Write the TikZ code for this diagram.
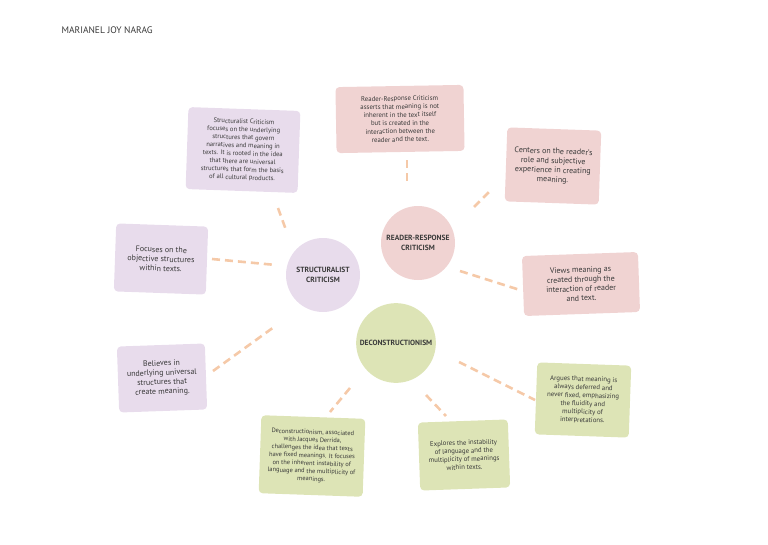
\documentclass[tikz,border=0pt]{standalone}
\usepackage{fontspec}
\setmainfont{PT Sans}
\definecolor{pur}{HTML}{E8DCEC}
\definecolor{pnk}{HTML}{F0D3D2}
\definecolor{grn}{HTML}{DDE4B6}
\definecolor{dsh}{HTML}{F5C9A8}
\definecolor{txt}{HTML}{3A3A3A}
\tikzset{
 card/.style={fill=#1,rounded corners=4pt,align=center,inner sep=2pt,font=\fontsize{6.8}{8.2}\selectfont,text=txt},
 hub/.style={circle,fill=#1,font=\fontsize{7.5}{10}\selectfont\bfseries,text=txt,align=center},
 link/.style={draw=dsh,line width=2.6pt,dash pattern=on 8pt off 5pt}
}
\begin{document}
\begin{tikzpicture}[x=1pt,y=-1pt]
\useasboundingbox (0,0) rectangle (768,544);
\node[anchor=west,font=\fontsize{9.5}{10}\selectfont,text=txt] (title) at (58,30) {MARIANEL JOY NARAG};
\node[hub=pur,minimum size=74pt] (sc) at (323,275) {STRUCTURALIST\\CRITICISM};
\node[hub=pnk,minimum size=74pt] (rr) at (418,243) {READER-RESPONSE\\CRITICISM};
\node[hub=grn,minimum size=76pt] (dc) at (396,343) {DECONSTRUCTIONISM};
\node[card=pur,minimum width=112pt,minimum height=82pt,font=\fontsize{6.6}{8}\selectfont,rotate=-2] (s1) at (243,150) {Structuralist Criticism\\focuses on the underlying\\structures that govern\\narratives and meaning in\\texts. It is rooted in the idea\\that there are universal\\structures that form the basis\\of all cultural products.};
\node[card=pnk,minimum width=128pt,minimum height=66pt,rotate=1] (r1) at (400,119) {Reader-Response Criticism\\asserts that meaning is not\\inherent in the text itself\\but is created in the\\interaction between the\\reader and the text.};
\node[card=pnk,minimum width=94pt,minimum height=74pt,font=\fontsize{8}{9.4}\selectfont,rotate=-2] (r2) at (553,166) {Centers on the reader's\\role and subjective\\experience in creating\\meaning.};
\node[card=pnk,minimum width=116pt,minimum height=60pt,font=\fontsize{8}{9.4}\selectfont,rotate=2] (r3) at (581,284) {Views meaning as\\created through the\\interaction of reader\\and text.};
\node[card=pur,minimum width=92pt,minimum height=68pt,font=\fontsize{8}{9.4}\selectfont,rotate=-2] (s2) at (161,259) {Focuses on the\\objective structures\\within texts.};
\node[card=pur,minimum width=88pt,minimum height=66pt,font=\fontsize{8}{9.4}\selectfont,rotate=2] (s3) at (162,378) {Believes in\\underlying universal\\structures that\\create meaning.};
\node[card=grn,minimum width=104pt,minimum height=78pt,font=\fontsize{6.4}{7.8}\selectfont,rotate=-2] (d1) at (312,456) {Deconstructionism, associated\\with Jacques Derrida,\\challenges the idea that texts\\have fixed meanings. It focuses\\on the inherent instability of\\language and the multiplicity of\\meanings.};
\node[card=grn,minimum width=90pt,minimum height=68pt,rotate=2] (d2) at (464,455) {Explores the instability\\of language and the\\multiplicity of meanings\\within texts.};
\node[card=grn,minimum width=94pt,minimum height=72pt,rotate=-2] (d3) at (583,400) {Argues that meaning is\\always deferred and\\never fixed, emphasizing\\the fluidity and\\multiplicity of\\interpretations.};
\coordinate (a1) at (278,208); \coordinate (a2) at (286,230);
\coordinate (b1) at (212,259); \coordinate (b2) at (276,265);
\coordinate (c1) at (213,371); \coordinate (c2) at (274,327);
\coordinate (e1) at (407,160); \coordinate (e2) at (407,185);
\coordinate (f1) at (474,207); \coordinate (f2) at (491,190);
\coordinate (g1) at (460,271); \coordinate (g2) at (520,290);
\coordinate (h1) at (350,388); \coordinate (h2) at (330,412);
\coordinate (i1) at (426,395); \coordinate (i2) at (446,416);
\coordinate (j1) at (459,362); \coordinate (j2) at (535,400);
\foreach \p/\q in {a1/a2,b1/b2,c1/c2,e1/e2,f1/f2,g1/g2,h1/h2,i1/i2,j1/j2}
  \draw[link] (\p) -- (\q);
\end{tikzpicture}
\end{document}
